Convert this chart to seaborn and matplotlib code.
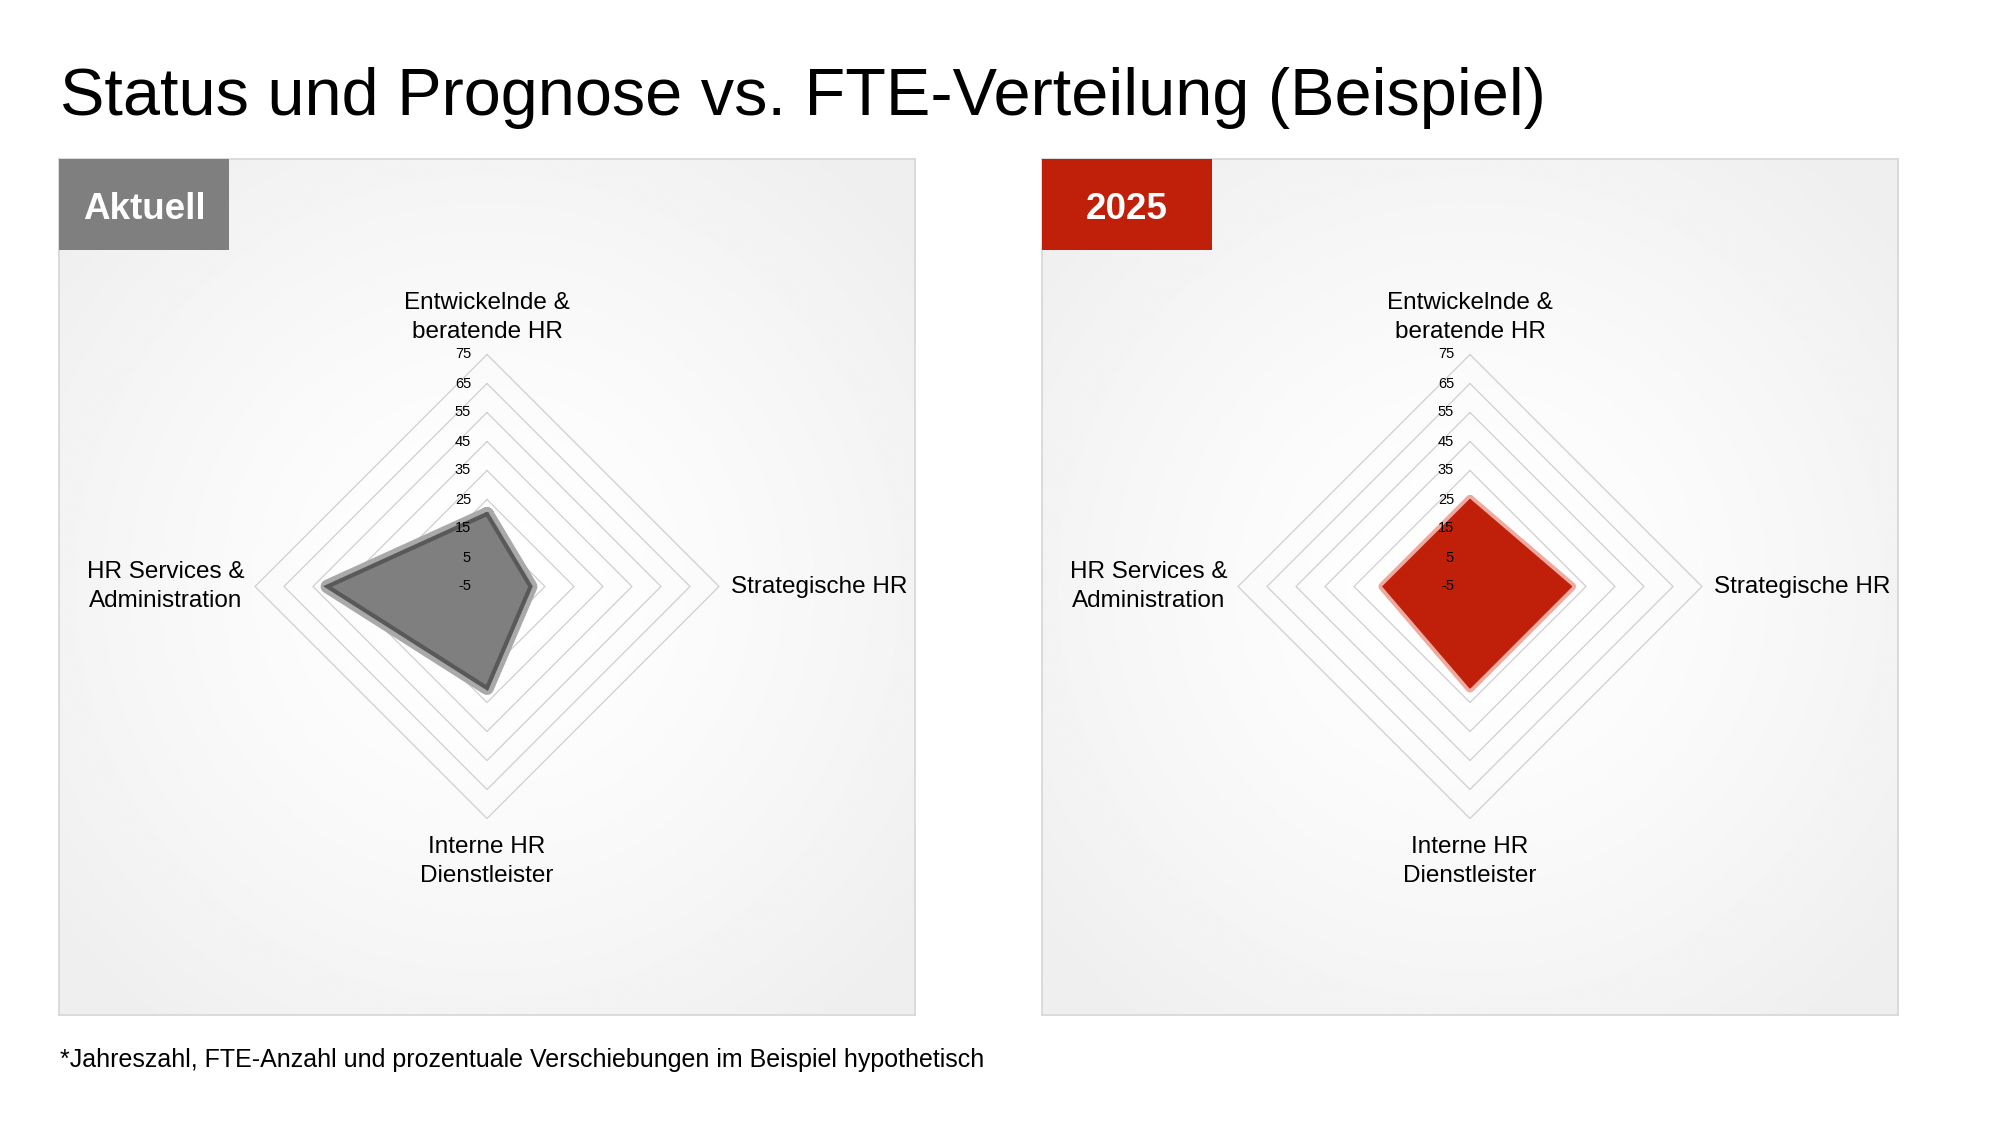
import numpy as np
import pandas as pd
import matplotlib.pyplot as plt
import seaborn as sns

# ── chart data
categories = ["Entwickelnde &\nberatende HR", "Strategische HR",
              "Interne HR\nDienstleister", "HR Services &\nAdministration"]
values_aktuell = [20, 10, 30, 50]
values_2025 = [25, 30, 30, 25]
ring_values = [-5, 5, 15, 25, 35, 45, 55, 65, 75]
panel_titles = ["Aktuell", "2025"]

title = "Status und Prognose vs. FTE-Verteilung (Beispiel)"
footnote = "*Jahreszahl, FTE-Anzahl und prozentuale Verschiebungen im Beispiel hypothetisch"

RED = "#c0200a"
GREY = "#7f7f7f"

sns.set_theme(style="white")
plt.rcParams["font.family"] = ["Liberation Sans", "DejaVu Sans"]

W, H = 2000, 1125
fig = plt.figure(figsize=(20, 11.25), dpi=100)
fig.patch.set_facecolor("white")


def px_axes(x0, y0, w, h):
    """Axes from pixel box (top-left origin)."""
    return fig.add_axes([x0 / W, 1 - (y0 + h) / H, w / W, h / H])


def to_xy(vals, r_min):
    n = len(vals)
    ang = np.pi / 2 - 2 * np.pi * np.arange(n) / n
    r = np.asarray(vals, dtype=float) - r_min
    x = np.append(r * np.cos(ang), r[0] * np.cos(ang[0]))
    y = np.append(r * np.sin(ang), r[0] * np.sin(ang[0]))
    return x, y


def draw_panel(x0, title_txt, box_color, vals, fill, edge, glow, glow_lw, edge_lw):
    top, size = 159, 856

    # background with soft radial gradient
    bg = px_axes(x0, top, size, size)
    yy, xx = np.mgrid[-1:1:300j, -1:1:300j]
    d = np.clip(np.sqrt(xx ** 2 + yy ** 2) / 1.3, 0, 1)
    bg.imshow(1 - 0.065 * d ** 1.4, cmap="gray", vmin=0, vmax=1,
              extent=[0, 1, 0, 1], aspect="auto")
    bg.set_xticks([])
    bg.set_yticks([])
    for s in bg.spines.values():
        s.set_color("#d6d6d6")
        s.set_linewidth(1.2)

    # header box
    hb = px_axes(x0, top, 170, 91)
    hb.set_facecolor(box_color)
    hb.set_xticks([])
    hb.set_yticks([])
    for s in hb.spines.values():
        s.set_visible(False)
    hb.text(0.5, 0.45, title_txt, ha="center", va="center", color="white",
            fontsize=26.5, fontweight="bold", transform=hb.transAxes)

    # radar
    scale = 2.9  # px per unit
    half = 320
    cx, cy = x0 + size / 2, top + size / 2 - 0.5
    ax = px_axes(cx - half, cy - half, 2 * half, 2 * half)
    lim = half / scale
    ax.set_xlim(-lim, lim)
    ax.set_ylim(-lim, lim)
    ax.axis("off")

    r_min = ring_values[0]
    for rv in ring_values[1:]:
        gx, gy = to_xy([rv] * len(categories), r_min)
        sns.lineplot(x=gx, y=gy, sort=False, estimator=None, ax=ax,
                     color="#cfcfcf", lw=0.9, zorder=1)

    px_, py_ = to_xy(vals, r_min)
    sns.lineplot(x=px_, y=py_, sort=False, estimator=None, ax=ax,
                 color=glow, lw=glow_lw, zorder=2, solid_joinstyle="round")
    ax.fill(px_, py_, color=fill, zorder=3, lw=0)
    sns.lineplot(x=px_, y=py_, sort=False, estimator=None, ax=ax,
                 color=edge, lw=edge_lw, zorder=4, solid_joinstyle="miter")

    for rv in ring_values:
        ax.text(-5.5, rv - r_min, str(rv), ha="right", va="center",
                fontsize=10.5, color="black", zorder=5)

    outer = ring_values[-1] - r_min
    lab = dict(fontsize=17.5, linespacing=1.4, color="black")
    ax.text(0, outer + 4, categories[0], ha="center", va="bottom",
            multialignment="center", **lab)
    ax.text(outer + 4, 0, categories[1], ha="left", va="center", **lab)
    ax.text(0, -outer - 6.2, categories[2], ha="center", va="top",
            multialignment="center", **lab)
    ax.text(-outer - 3.5, 0, categories[3], ha="right", va="center",
            multialignment="center", **lab)


draw_panel(59, panel_titles[0], GREY, values_aktuell,
           fill=GREY, edge="#595959", glow="#a9a9a9", glow_lw=10, edge_lw=3)
draw_panel(1042, panel_titles[1], RED, values_2025,
           fill=RED, edge=RED, glow="#eeaaa0", glow_lw=6.5, edge_lw=1)

fig.text(60 / W, 1 - 115 / H, title, fontsize=48, ha="left",
         va="baseline", color="black")
fig.text(60 / W, 1 - 1067 / H, footnote, fontsize=18, ha="left",
         va="baseline", color="black")

fig.savefig("out.png", dpi=100, facecolor="white")
